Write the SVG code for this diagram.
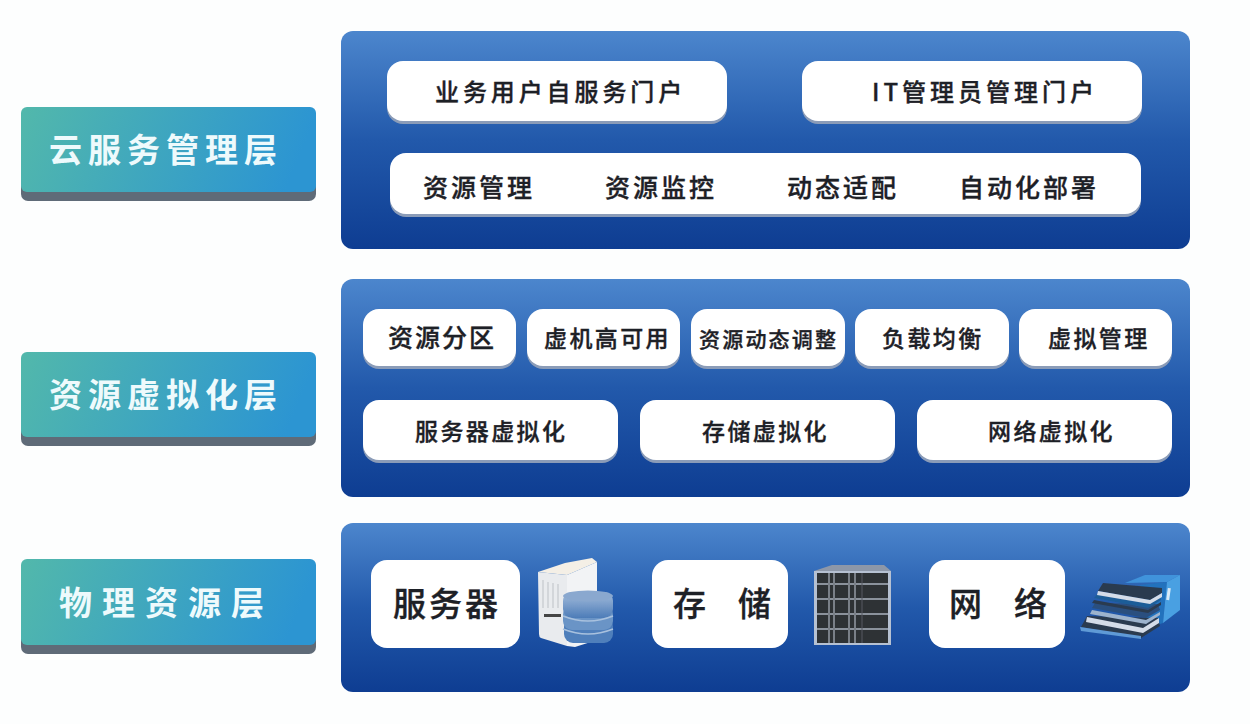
<svg xmlns="http://www.w3.org/2000/svg" width="1250" height="724" viewBox="0 0 1250 724">
<style>
text{font-family:"Noto Sans CJK SC","Noto Sans",sans-serif;font-weight:500;fill:#1d2026;stroke:#1d2026;stroke-width:.35px}
.lab{font-size:33px;font-weight:700;fill:#eefafc;stroke:none;letter-spacing:6px}
.w{fill:#fff}
.s{fill:#8b9cb8}
.t24{font-size:24px;letter-spacing:3.9px}
.t25{font-size:25px;letter-spacing:3px}
.t23{font-size:23px;letter-spacing:2.4px}
.t21{font-size:21px;letter-spacing:2.2px}
.t33{font-size:33px;letter-spacing:3px}
.tray{fill:#2c3a50}
.rim{fill:#d4dce8}
</style>
<defs>
<linearGradient id="p" x1="0" y1="0" x2="0" y2="1"><stop offset="0" stop-color="#4c86cd"/><stop offset="0.5" stop-color="#2259ab"/><stop offset="1" stop-color="#0e3d92"/></linearGradient>
<linearGradient id="g" x1="0" y1="0" x2="1" y2="0.12"><stop offset="0" stop-color="#52b8ab"/><stop offset="1" stop-color="#2c95d2"/></linearGradient>
<linearGradient id="db" x1="0" y1="0" x2="0" y2="1"><stop offset="0" stop-color="#a5bddc"/><stop offset="1" stop-color="#4d7cb8"/></linearGradient>
<filter id="soft" x="-10%" y="-10%" width="120%" height="120%"><feGaussianBlur stdDeviation="0.6"/></filter>
</defs>
<rect width="1250" height="724" fill="#fdfefe"/>

<g id="layer-cloud">
<rect x="21" y="112" width="295" height="89" rx="7" fill="#5f6b78"/>
<rect x="21" y="107" width="295" height="85" rx="6" fill="url(#g)"/>
<text class="lab" x="49" y="162">云服务管理层</text>
</g>
<g id="layer-virtual">
<rect x="21" y="357" width="295" height="89" rx="7" fill="#5f6b78"/>
<rect x="21" y="352" width="295" height="85" rx="6" fill="url(#g)"/>
<text class="lab" x="49" y="407">资源虚拟化层</text>
</g>
<g id="layer-physical">
<rect x="21" y="564" width="295" height="90" rx="7" fill="#5f6b78"/>
<rect x="21" y="559" width="295" height="86" rx="6" fill="url(#g)"/>
<text class="lab" x="59" y="615" style="letter-spacing:10px">物理资源层</text>
</g>

<g id="panel-cloud"><rect x="341" y="31" width="849" height="218" rx="12" fill="url(#p)"/></g>
<g id="panel-virtual"><rect x="341" y="279" width="849" height="218" rx="12" fill="url(#p)"/></g>
<g id="panel-physical"><rect x="341" y="523" width="849" height="169" rx="12" fill="url(#p)"/></g>

<g id="portal-user">
<rect class="s" x="387" y="64" width="340" height="60" rx="16"/><rect class="w" x="387" y="61" width="340" height="60" rx="16"/>
<text class="t24" x="435" y="101">业务用户自服务门户</text>
</g>
<g id="portal-admin">
<rect class="s" x="802" y="64" width="340" height="60" rx="16"/><rect class="w" x="802" y="61" width="340" height="60" rx="16"/>
<text class="t24" x="872" y="101" style="letter-spacing:4px">IT管理员管理门户</text>
</g>
<g id="mgmt-row">
<rect class="s" x="390" y="156" width="751" height="61" rx="16"/><rect class="w" x="390" y="153" width="751" height="61" rx="16"/>
<text class="t25" x="423" y="197">资源管理</text>
<text class="t25" x="605" y="197">资源监控</text>
<text class="t25" x="787" y="197">动态适配</text>
<text class="t25" x="959" y="197">自动化部署</text>
</g>

<g id="v-partition">
<rect class="s" x="363" y="312" width="153" height="57" rx="16"/><rect class="w" x="363" y="309" width="153" height="57" rx="16"/>
<text class="t25" x="388" y="347" style="letter-spacing:2px">资源分区</text>
</g>
<g id="v-ha">
<rect class="s" x="527" y="312" width="153" height="57" rx="16"/><rect class="w" x="527" y="309" width="153" height="57" rx="16"/>
<text class="t23" x="544" y="347">虚机高可用</text>
</g>
<g id="v-adjust">
<rect class="s" x="691" y="312" width="154" height="57" rx="16"/><rect class="w" x="691" y="309" width="154" height="57" rx="16"/>
<text class="t21" x="699" y="347">资源动态调整</text>
</g>
<g id="v-balance">
<rect class="s" x="855" y="312" width="154" height="57" rx="16"/><rect class="w" x="855" y="309" width="154" height="57" rx="16"/>
<text class="t23" x="882" y="347">负载均衡</text>
</g>
<g id="v-manage">
<rect class="s" x="1019" y="312" width="153" height="57" rx="16"/><rect class="w" x="1019" y="309" width="153" height="57" rx="16"/>
<text class="t23" x="1048" y="347">虚拟管理</text>
</g>
<g id="v-server">
<rect class="s" x="363" y="403" width="255" height="60" rx="16"/><rect class="w" x="363" y="400" width="255" height="60" rx="16"/>
<text class="t23" x="415" y="440">服务器虚拟化</text>
</g>
<g id="v-storage">
<rect class="s" x="640" y="403" width="255" height="60" rx="16"/><rect class="w" x="640" y="400" width="255" height="60" rx="16"/>
<text class="t23" x="702" y="440">存储虚拟化</text>
</g>
<g id="v-network">
<rect class="s" x="917" y="403" width="255" height="60" rx="16"/><rect class="w" x="917" y="400" width="255" height="60" rx="16"/>
<text class="t23" x="988" y="440">网络虚拟化</text>
</g>

<g id="p-server">
<rect class="w" x="371" y="560" width="149" height="88" rx="16"/>
<text class="t33" x="393" y="616">服务器</text>
</g>
<g id="p-storage">
<rect class="w" x="652" y="560" width="136" height="88" rx="16"/>
<text class="t33" x="673" y="616">存</text><text class="t33" x="738" y="616">储</text>
</g>
<g id="p-network">
<rect class="w" x="929" y="560" width="136" height="88" rx="16"/>
<text class="t33" x="949" y="616">网</text><text class="t33" x="1014" y="616">络</text>
</g>

<g id="icon-server" filter="url(#soft)">
<path d="M538 572 L565 563 L592 558 L597 562 L567 575 Z" fill="#f4efe6"/>
<path d="M538 572 L567 575 L567 646 L541 638 Q539 637 539 634 Z" fill="#e9ebee"/>
<path d="M567 575 L597 562 L597 640 L575 647 L567 646 Z" fill="#f2f3f5"/>
<path d="M543 580V608M548 582V608M553 583V608M558 584V608" stroke="#d3d6da" stroke-width="2"/>
<rect x="544" y="614" width="17" height="3" fill="#444"/>
<rect x="564" y="618" width="49" height="25" rx="9" fill="#4f7fbb"/>
<rect x="563" y="606" width="50" height="24" rx="9" fill="#6a94c6"/>
<rect x="563" y="592" width="50" height="26" rx="9" fill="url(#db)"/>
<ellipse cx="588" cy="596" rx="25" ry="5.5" fill="#8aa8cf"/>
<path d="M563 616 Q588 626 613 616 M563 629 Q588 639 613 629" fill="none" stroke="#a8c1de" stroke-width="1.5"/>
</g>
<g id="icon-storage" filter="url(#soft)">
<path d="M814 571 L832 565 L884 565 L891 571 Z" fill="#8d97a8"/>
<rect x="814" y="571" width="77" height="74" fill="#b6c1d2"/>
<rect x="817" y="573" width="71" height="70" fill="#2e3036"/>
<path d="M817 584H888M817 599H888M817 614H888M817 629H888" stroke="#8b929c" stroke-width="2"/>
<path d="M829 573V643M834 573V643M849 573V643M855 573V643" stroke="#7a8088" stroke-width="2"/>
<path d="M862 573V643" stroke="#565a62" stroke-width="1"/>
</g>
<g id="icon-network" filter="url(#soft)">
<path d="M1125 583 L1167 582 L1180 575 L1145 575 Z" fill="#3f93db"/>
<path d="M1140 585 L1167 582 L1163 623 L1148 628 Z" fill="#2272bd"/>
<path d="M1167 582 L1180 575 L1180 610 L1163 623 Z" fill="#4aa0e2"/>
<rect x="1167" y="588" width="3" height="12" fill="#d7e9f7" transform="rotate(8 1168 594)"/>
<path d="M1081 627 L1141 638 L1160 626 L1158 618 L1087 616 Z" class="tray"/>
<path d="M1080 627 L1141 636 L1141 639 L1081 631 Z" fill="#5f9ad6"/>
<path d="M1087 617 L1143 628 L1159 618 L1159 623 L1143 633 L1086 622 Z" class="rim"/>
<path d="M1092 608 L1146 618 L1160 610 L1158 604 L1095 603 Z" fill="#2a4f7f"/>
<path d="M1092 610 L1146 620 L1160 612 L1160 615 L1146 624 L1090 614 Z" fill="#9db3cd"/>
<path d="M1094 598 L1148 608 L1161 600 L1160 595 L1098 593 Z" fill="#1f5d98"/>
<path d="M1094 600 L1148 610 L1161 602 L1161 605 L1148 613 L1092 603 Z" fill="#2c3a50"/>
<path d="M1098 591 L1150 600 L1162 593 L1162 588 L1103 583 Z" class="tray"/>
<path d="M1098 591 L1150 600 L1162 593 L1162 597 L1150 604 L1097 595 Z" class="rim"/>
</g>
</svg>
